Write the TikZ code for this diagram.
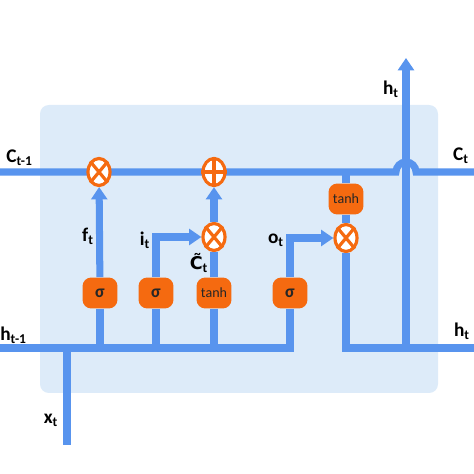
\documentclass[tikz,border=0pt]{standalone}
\usepackage{fontspec}
\setmainfont{Carlito}
\newfontfamily\markfont{DejaVu Sans}
\usetikzlibrary{arrows.meta,shapes.geometric}
\definecolor{lstmblue}{RGB}{88,148,238}
\definecolor{gateorange}{RGB}{245,106,16}
\definecolor{cellbg}{RGB}{221,235,249}
\tikzset{
  flow/.style={draw=lstmblue, line width=4pt, line join=miter},
  arr/.style={-{Triangle[width=9pt,length=7pt]}},
  gate/.style={fill=gateorange, rounded corners=5pt, minimum width=0.7cm, minimum height=0.62cm, inner sep=0pt, text=black!85, font=\bfseries},
  op/.style={ellipse, draw=gateorange, fill=white, line width=1.8pt, minimum width=0.44cm, minimum height=0.54cm, inner sep=0pt},
  opline/.style={draw=gateorange, line width=1.8pt},
  lbl/.style={font=\fontsize{11}{13}\selectfont\bfseries, inner sep=0pt}
}
\begin{document}
\begin{tikzpicture}[x=0.02cm,y=0.02cm]
\useasboundingbox (0,0) rectangle (474,474);
\fill[cellbg, rounded corners=5pt] (40,81) rectangle (438,369);
\coordinate (cin) at (0,302);
\coordinate (cout) at (474,302);
\coordinate (hopl) at (396,302);
\coordinate (hin) at (0,126);
\coordinate (hout) at (474,126);
\coordinate (hup) at (406,126);
\coordinate (htop) at (406,416);
\coordinate (xin) at (67,29);
\draw[flow,arr] (hup) -- (htop);
\draw[flow] (cin) -- (hopl) arc (180:0:10) -- (cout);

\node[op] (fx) at (99,302) {};
\node[op] (plus) at (214,302) {};
\node[op] (ix) at (214,237) {};
\node[op] (ox) at (346,236) {};
\draw[opline] (fx.north west) -- (fx.south east) (fx.north east) -- (fx.south west);
\draw[opline] (ix.north west) -- (ix.south east) (ix.north east) -- (ix.south west);
\draw[opline] (ox.north west) -- (ox.south east) (ox.north east) -- (ox.south west);
\draw[opline] (plus.north) -- (plus.south) (plus.west) -- (plus.east);

\node[gate] (fg) at (100,181) {σ};
\node[gate] (ig) at (156,181) {σ};
\node[gate, font=\footnotesize] (cg) at (214,181) {tanh};
\node[gate] (og) at (290,181) {σ};
\node[gate, font=\footnotesize] (tg) at (346,275) {tanh};

\draw[flow] (hin) -| (og);
\draw[flow] (xin) -- (xin |- hin);
\draw[flow] (fg) -- (fg |- hin);
\draw[flow] (ig) -- (ig |- hin);
\draw[flow] (cg) -- (cg |- hin);
\draw[flow,arr] (fg) -- (fx);
\draw[flow,arr] (ig) |- (ix);
\draw[flow] (cg) -- (ix);
\draw[flow,arr] (ix) -- (plus);
\draw[flow,arr] (og) |- (ox);
\draw[flow] (tg) -- (tg |- cin);
\draw[flow] (tg) -- (ox);
\draw[flow] (ox) |- (hout);

\node[lbl, anchor=west] (lct1) at (6,316) {C\textsubscript{t-1}};
\node[lbl] (lct) at (461,318) {C\textsubscript{t}};
\node[lbl] (lhtop) at (391,385) {h\textsubscript{t}};
\node[lbl] (lft) at (88,238) {f\textsubscript{t}};
\node[lbl] (lit) at (145,234) {i\textsubscript{t}};
\node[lbl] (lctil) at (199,211) {{\markfont\fontsize{10}{12}\selectfont C^^^^0303}\textsubscript{t}};
\node[lbl] (lot) at (276,234) {o\textsubscript{t}};
\node[lbl, anchor=west] (lht1) at (0,139) {h\textsubscript{t-1}};
\node[lbl] (lht) at (462,143) {h\textsubscript{t}};
\node[lbl] (lxt) at (51,54) {x\textsubscript{t}};
\end{tikzpicture}
\end{document}
